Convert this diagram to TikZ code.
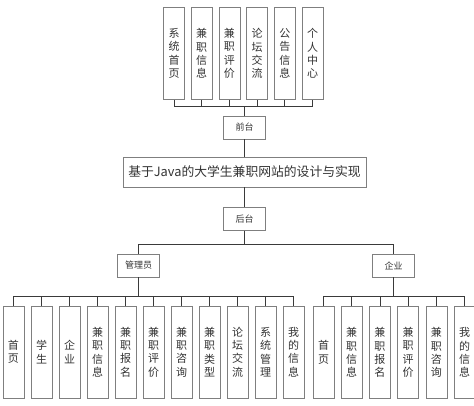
\documentclass[tikz,border=0pt]{standalone}
\usepackage{fontspec}
\setmainfont{Noto Sans CJK SC}
\usetikzlibrary{positioning}

\definecolor{boxgray}{HTML}{7F7F7F}
\definecolor{linegray}{HTML}{3A3A3A}
\definecolor{textgray}{HTML}{333333}

\tikzset{
  box/.style={draw=boxgray, line width=0.6pt, inner sep=0pt, text=textgray},
  tallbox/.style={box, minimum width=21pt, minimum height=92pt, align=center,
    font=\fontsize{11}{13.4}\selectfont},
  smallbox/.style={box, minimum width=42pt, minimum height=23pt,
    font=\fontsize{9}{11}\selectfont},
  titlebox/.style={box, minimum width=243pt, minimum height=30pt,
    font=\fontsize{12.8}{15}\selectfont},
  link/.style={draw=linegray, line width=0.7pt}
}

\begin{document}
\begin{tikzpicture}[x=1pt,y=-1pt]
                \useasboundingbox (0,0) rectangle (474,405);
                \node [titlebox] (title) at (244.5,172) {基于Java的大学生兼职网站的设计与实现};
                \node [smallbox, above=17.5pt of title] (qt) {前台};
                \node [smallbox, below=20pt of title] (ht) {后台};
                \node [smallbox] (gly) at (138.5,265.5) {管理员};
                \node [smallbox] (qy) at (393.5,265.5) {企业};
                % front pages
                \node [tallbox] (f1) at (174,53.5) {系\\统\\首\\页};
                \node [tallbox, right=6.1pt of f1] (f2) {兼\\职\\信\\息};
                \node [tallbox, right=6.1pt of f2] (f3) {兼\\职\\评\\价};
                \node [tallbox, right=6.1pt of f3] (f4) {论\\坛\\交\\流};
                \node [tallbox, right=6.1pt of f4] (f5) {公\\告\\信\\息};
                \node [tallbox, right=6.1pt of f5] (f6) {个\\人\\中\\心};
                % admin pages
                \node [tallbox] (a1) at (13.5,352) {首\\页};
                \node [tallbox, right=6.4pt of a1] (a2) {学\\生};
                \node [tallbox, right=6.4pt of a2] (a3) {企\\业};
                \node [tallbox, right=6.4pt of a3] (a4) {兼\\职\\信\\息};
                \node [tallbox, right=6.4pt of a4] (a5) {兼\\职\\报\\名};
                \node [tallbox, right=6.4pt of a5] (a6) {兼\\职\\评\\价};
                \node [tallbox, right=6.4pt of a6] (a7) {兼\\职\\咨\\询};
                \node [tallbox, right=6.4pt of a7] (a8) {兼\\职\\类\\型};
                \node [tallbox, right=6.4pt of a8] (a9) {论\\坛\\交\\流};
                \node [tallbox, right=6.4pt of a9] (a10) {系\\统\\管\\理};
                \node [tallbox, right=6.4pt of a10] (a11) {我\\的\\信\\息};
                % company pages
                \node [tallbox] (e1) at (323.5,352.5) {首\\页};
                \node [tallbox, right=6.6pt of e1] (e2) {兼\\职\\信\\息};
                \node [tallbox, right=6.6pt of e2] (e3) {兼\\职\\报\\名};
                \node [tallbox, right=6.6pt of e3] (e4) {兼\\职\\评\\价};
                \node [tallbox, right=6.6pt of e4] (e5) {兼\\职\\咨\\询};
                \node [tallbox, right=6.6pt of e5] (e6) {我\\的\\信\\息};
                % links
                \draw [link] (title) -- (qt);
                \draw [link] (title) -- (ht);
                \draw [link] (qt.north) -- ++(0,-9.5) -| (f1.south);
                \draw [link] (qt.north) -- ++(0,-9.5) -| (f2.south);
                \draw [link] (qt.north) -- ++(0,-9.5) -| (f3.south);
                \draw [link] (qt.north) -- ++(0,-9.5) -| (f4.south);
                \draw [link] (qt.north) -- ++(0,-9.5) -| (f5.south);
                \draw [link] (qt.north) -- ++(0,-9.5) -| (f6.south);
                \draw [link] (ht.south) -- ++(0,13) -| (gly.north);
                \draw [link] (ht.south) -- ++(0,13) -| (qy.north);
                \draw [link] (gly.south) -- ++(0,19) -| (a1.north);
                \draw [link] (gly.south) -- ++(0,19) -| (a2.north);
                \draw [link] (gly.south) -- ++(0,19) -| (a3.north);
                \draw [link] (gly.south) -- ++(0,19) -| (a4.north);
                \draw [link] (gly.south) -- ++(0,19) -| (a5.north);
                \draw [link] (gly.south) -- ++(0,19) -| (a6.north);
                \draw [link] (gly.south) -- ++(0,19) -| (a7.north);
                \draw [link] (gly.south) -- ++(0,19) -| (a8.north);
                \draw [link] (gly.south) -- ++(0,19) -| (a9.north);
                \draw [link] (gly.south) -- ++(0,19) -| (a10.north);
                \draw [link] (gly.south) -- ++(0,19) -| (a11.north);
                \draw [link] (qy.south) -- ++(0,19) -| (e1.north);
                \draw [link] (qy.south) -- ++(0,19) -| (e2.north);
                \draw [link] (qy.south) -- ++(0,19) -| (e3.north);
                \draw [link] (qy.south) -- ++(0,19) -| (e4.north);
                \draw [link] (qy.south) -- ++(0,19) -| (e5.north);
                \draw [link] (qy.south) -- ++(0,19) -| (e6.north);
\end{tikzpicture}
\end{document}
